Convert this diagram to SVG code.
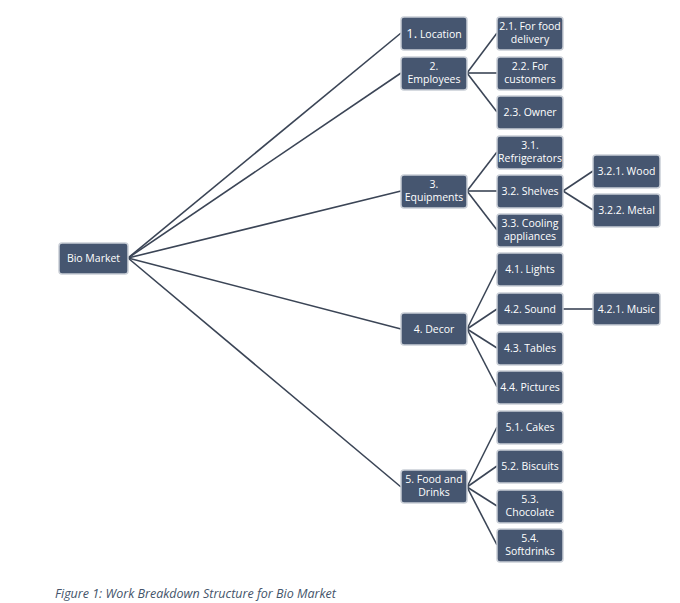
<svg xmlns="http://www.w3.org/2000/svg" width="680" height="603" viewBox="0 0 680 603">
<style>
rect{fill:#465670;stroke:#c9ced6;stroke-width:1.5}
text{font-family:"Open Sans","Liberation Sans",sans-serif;font-size:10.5px;fill:#fff;text-anchor:middle}
#conn line{stroke:#3b4556;stroke-width:1.6}
.cap{font-style:italic;fill:#44546a;font-size:12.5px;text-anchor:start}
</style>
<rect x="0" y="0" width="680" height="603" style="fill:#fff;stroke:none"/>
<g id="conn">
<line x1="128" y1="258" x2="401" y2="33"/><line x1="128" y1="258" x2="401" y2="73"/>
<line x1="128" y1="258" x2="401" y2="191"/><line x1="128" y1="258" x2="401" y2="329"/>
<line x1="128" y1="258" x2="401" y2="487"/>
<line x1="467" y1="73" x2="497" y2="33"/><line x1="467" y1="73" x2="497" y2="73"/><line x1="467" y1="73" x2="497" y2="112"/>
<line x1="467" y1="191" x2="497" y2="152"/><line x1="467" y1="191" x2="497" y2="191"/><line x1="467" y1="191" x2="497" y2="230"/>
<line x1="563" y1="191" x2="593" y2="171"/><line x1="563" y1="191" x2="593" y2="210"/>
<line x1="467" y1="329" x2="497" y2="269"/><line x1="467" y1="329" x2="497" y2="309"/><line x1="467" y1="329" x2="497" y2="348"/><line x1="467" y1="329" x2="497" y2="387"/>
<line x1="563" y1="309" x2="593" y2="309"/>
<line x1="467" y1="487" x2="497" y2="427"/><line x1="467" y1="487" x2="497" y2="466"/><line x1="467" y1="487" x2="497" y2="506"/><line x1="467" y1="487" x2="497" y2="545"/>
</g>
<g id="root"><rect x="59" y="243" width="69" height="31" rx="3"/><text x="93.5" y="262">Bio Market</text></g>
<g id="n1"><rect x="401" y="17" width="66" height="33" rx="3"/><text x="434" y="38"><tspan font-size="13">1.</tspan> Location</text></g>
<g id="n2"><rect x="401" y="57" width="66" height="33" rx="3"/><text x="434" y="70">2.</text><text x="434" y="83">Employees</text></g>
<g id="n3"><rect x="401" y="175" width="66" height="33" rx="3"/><text x="434" y="188">3.</text><text x="434" y="201">Equipments</text></g>
<g id="n4"><rect x="401" y="313" width="66" height="32" rx="3"/><text x="434" y="333">4. Decor</text></g>
<g id="n5"><rect x="401" y="470" width="66" height="33" rx="3"/><text x="434" y="483">5. Food and</text><text x="434" y="496">Drinks</text></g>
<g id="n21"><rect x="497" y="17" width="66" height="33" rx="3"/><text x="530" y="30">2.1. For food</text><text x="530" y="43">delivery</text></g>
<g id="n22"><rect x="497" y="57" width="66" height="33" rx="3"/><text x="530" y="70">2.2. For</text><text x="530" y="83">customers</text></g>
<g id="n23"><rect x="497" y="96" width="66" height="33" rx="3"/><text x="530" y="116">2.3. Owner</text></g>
<g id="n31"><rect x="497" y="136" width="66" height="33" rx="3"/><text x="530" y="149">3.1.</text><text x="530" y="162">Refrigerators</text></g>
<g id="n32"><rect x="497" y="175" width="66" height="33" rx="3"/><text x="530" y="195">3.2. Shelves</text></g>
<g id="n33"><rect x="497" y="214" width="66" height="33" rx="3"/><text x="530" y="227">3.3. Cooling</text><text x="530" y="240">appliances</text></g>
<g id="n321"><rect x="593" y="155" width="67" height="33" rx="3"/><text x="626.5" y="175">3.2.1. Wood</text></g>
<g id="n322"><rect x="593" y="194" width="67" height="33" rx="3"/><text x="626.5" y="214">3.2.2. Metal</text></g>
<g id="n41"><rect x="497" y="253" width="66" height="33" rx="3"/><text x="530" y="273">4.1. Lights</text></g>
<g id="n42"><rect x="497" y="293" width="66" height="32" rx="3"/><text x="530" y="313">4.2. Sound</text></g>
<g id="n421"><rect x="593" y="293" width="67" height="32" rx="3"/><text x="626.5" y="313">4.2.1. Music</text></g>
<g id="n43"><rect x="497" y="332" width="66" height="33" rx="3"/><text x="530" y="352">4.3. Tables</text></g>
<g id="n44"><rect x="497" y="371" width="66" height="33" rx="3"/><text x="530" y="391">4.4. Pictures</text></g>
<g id="n51"><rect x="497" y="411" width="66" height="33" rx="3"/><text x="530" y="431">5.1. Cakes</text></g>
<g id="n52"><rect x="497" y="450" width="66" height="33" rx="3"/><text x="530" y="470">5.2. Biscuits</text></g>
<g id="n53"><rect x="497" y="490" width="66" height="33" rx="3"/><text x="530" y="503">5.3.</text><text x="530" y="516">Chocolate</text></g>
<g id="n54"><rect x="497" y="529" width="66" height="33" rx="3"/><text x="530" y="542">5.4.</text><text x="530" y="555">Softdrinks</text></g>
<text class="cap" x="55" y="598">Figure 1: Work Breakdown Structure for Bio Market</text>
</svg>
